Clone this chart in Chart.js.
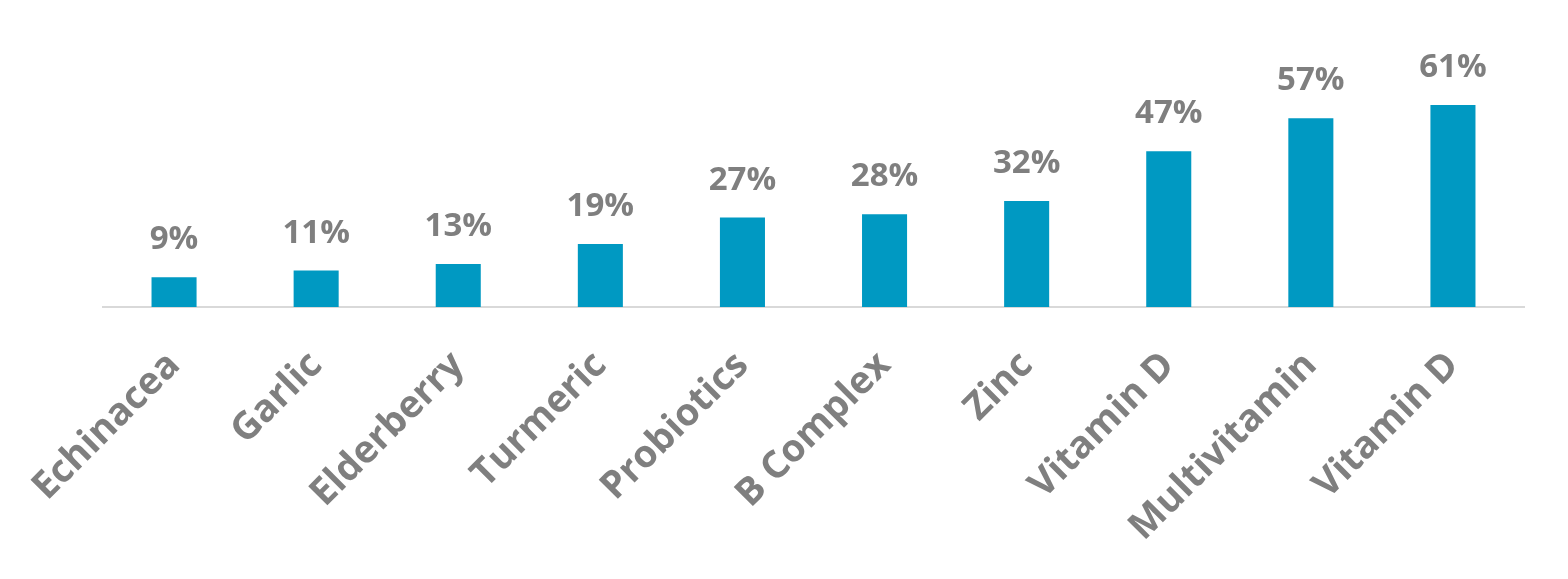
<!DOCTYPE html>
<html>
<head>
<meta charset="utf-8">
<script src="https://cdn.jsdelivr.net/npm/chart.js@4"></script>
<style>
  html, body { margin: 0; padding: 0; background: #fff; }
  #wrap { width: 1568px; height: 579px; }
</style>
</head>
<body>
<div id="wrap"><canvas id="chart"></canvas></div>
<script>
const categories = ["Echinacea", "Garlic", "Elderberry", "Turmeric", "Probiotics", "B Complex", "Zinc", "Vitamin D", "Multivitamin", "Vitamin D"];
const shares = [9, 11, 13, 19, 27, 28, 32, 47, 57, 61];

const textGray = "#7f7f7f";
const barBlue = "#0099c2";

// percent labels above each bar
const barLabels = {
  id: 'barLabels',
  afterDatasetsDraw(chart) {
    const ctx = chart.ctx;
    const meta = chart.getDatasetMeta(0);
    ctx.save();
    ctx.font = "bold 33px 'Open Sans'";
    ctx.fillStyle = textGray;
    ctx.textAlign = "center";
    ctx.textBaseline = "alphabetic";
    meta.data.forEach(function(bar, i) {
      ctx.fillText(shares[i] + "%", bar.x, bar.y - 28);
    });
    ctx.restore();
  }
};

new Chart(document.getElementById("chart"), {
  type: 'bar',
  data: {
    labels: categories,
    datasets: [{
      data: shares,
      backgroundColor: barBlue,
      categoryPercentage: 1,
      barPercentage: 0.317
    }]
  },
  options: {
    responsive: true,
    maintainAspectRatio: false,
    animation: false,
    layout: { padding: { top: 42, left: 103, right: 44, bottom: 0 } },
    plugins: {
      legend: { display: false },
      tooltip: { enabled: false }
    },
    scales: {
      x: {
        grid: { display: false },
        border: { display: true, color: "#d9d9d9", width: 2 },
        ticks: {
          minRotation: 45,
          maxRotation: 45,
          padding: 28,
          color: textGray,
          font: { family: "Open Sans", size: 38, weight: "bold" }
        },
        afterFit(scale) { scale.height = 272; }
      },
      y: {
        display: false,
        min: 0,
        max: 80
      }
    }
  },
  plugins: [barLabels]
});
</script>
</body>
</html>
